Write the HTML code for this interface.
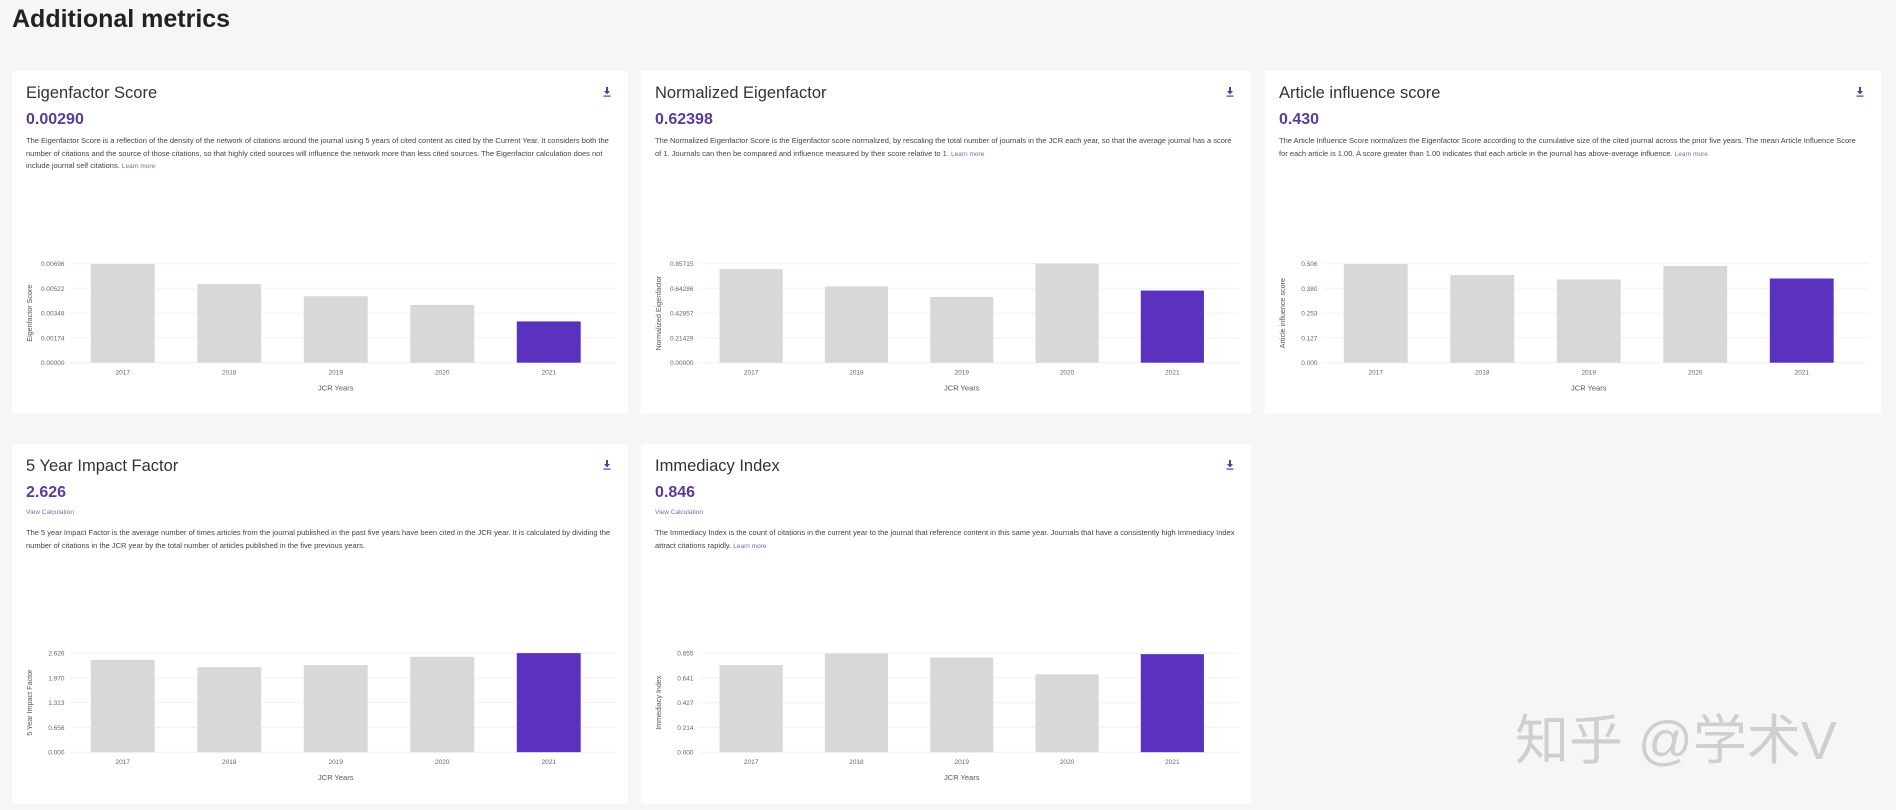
<!DOCTYPE html>
<html><head><meta charset="utf-8">
<style>
body{margin:0;width:1896px;height:810px;background:#f6f6f6;font-family:"Liberation Sans","Noto Sans CJK SC",sans-serif;position:relative;overflow:hidden}
h1{position:absolute;left:12px;top:5px;margin:0;font-size:25px;font-weight:700;color:#222}
.card{position:absolute;background:#fff}
.ct{position:absolute;left:14px;top:13px;font-size:16.5px;color:#333}
.cv{position:absolute;left:14px;top:40px;font-size:16px;font-weight:700;color:#5b3a9c}
.vc{position:absolute;left:14px;top:65px;font-size:6.5px;color:#7a6aa8}
.cd{position:absolute;left:14px;right:16px;font-size:7.5px;line-height:12.7px;color:#444}
.cd a{color:#7a6aa8;font-size:6.5px}
.dl{position:absolute;top:16px;width:8px;height:10px}
svg{position:absolute;left:0;top:0}
.wm{position:absolute;left:1515px;top:696px;font-size:54px;color:rgba(175,175,175,0.55);font-family:"Liberation Sans","Noto Sans CJK SC",sans-serif;white-space:nowrap}
</style></head><body>
<h1>Additional metrics</h1>
<div class="wm">知乎 @学术V</div>
<script>
const years=['2017','2018','2019','2020','2021'];
const eigenValues=[0.00694,0.00552,0.00467,0.00406,0.00290];
const eigenTicks=['0.00000','0.00174','0.00348','0.00522','0.00696'];
const normValues=[0.810,0.660,0.569,0.857,0.62398];
const normTicks=['0.00000','0.21429','0.42857','0.64286','0.85715'];
const aisValues=[0.504,0.448,0.425,0.494,0.430];
const aisTicks=['0.000','0.127','0.253','0.380','0.506'];
const fiveValues=[2.449,2.253,2.307,2.528,2.626];
const fiveTicks=['0.000','0.656','1.313','1.970','2.626'];
const immValues=[0.752,0.852,0.817,0.672,0.846];
const immTicks=['0.000','0.214','0.427','0.641','0.855'];

const cards=[
 {name:'eigenfactor',x:12,y:71,w:616,h:343,title:'Eigenfactor Score',value:'0.00290',calc:false,ytitle:'Eigenfactor Score',vals:eigenValues,ticks:eigenTicks,
  desc:'The Eigenfactor Score is a reflection of the density of the network of citations around the journal using 5 years of cited content as cited by the Current Year. It considers both the number of citations and the source of those citations, so that highly cited sources will influence the network more than less cited sources. The Eigenfactor calculation does not include journal self citations.'},
 {name:'normalized-eigenfactor',x:641,y:71,w:610,h:343,title:'Normalized Eigenfactor',value:'0.62398',calc:false,ytitle:'Normalized Eigenfactor',vals:normValues,ticks:normTicks,
  desc:'The Normalized Eigenfactor Score is the Eigenfactor score normalized, by rescaling the total number of journals in the JCR each year, so that the average journal has a score of 1. Journals can then be compared and influence measured by their score relative to 1.'},
 {name:'article-influence',x:1265,y:71,w:616,h:343,title:'Article influence score',value:'0.430',calc:false,ytitle:'Article influence score',vals:aisValues,ticks:aisTicks,
  desc:'The Article Influence Score normalizes the Eigenfactor Score according to the cumulative size of the cited journal across the prior five years. The mean Article Influence Score for each article is 1.00. A score greater than 1.00 indicates that each article in the journal has above-average influence.'},
 {name:'five-year-impact-factor',x:12,y:444,w:616,h:360,title:'5 Year Impact Factor',value:'2.626',calc:true,ytitle:'5 Year Impact Factor',vals:fiveValues,ticks:fiveTicks,learn:false,
  desc:'The 5 year Impact Factor is the average number of times articles from the journal published in the past five years have been cited in the JCR year. It is calculated by dividing the number of citations in the JCR year by the total number of articles published in the five previous years.'},
 {name:'immediacy-index',x:641,y:444,w:610,h:360,title:'Immediacy Index',value:'0.846',calc:true,ytitle:'Immediacy Index',vals:immValues,ticks:immTicks,
  desc:'The Immediacy Index is the count of citations in the current year to the journal that reference content in this same year. Journals that have a consistently high Immediacy Index attract citations rapidly.'}
];
const NS='http://www.w3.org/2000/svg';
function mk(tag,attrs,parent){const e=document.createElementNS(NS,tag);for(const k in attrs)e.setAttribute(k,attrs[k]);parent.appendChild(e);return e;}

cards.forEach(c=>{
 const d=document.createElement('div');d.className='card';
 
 
 d.style.cssText=`left:${c.x}px;top:${c.y}px;width:${c.w}px;height:${c.h}px`;
 document.body.appendChild(d);
 const t=document.createElement('div');t.className='ct';t.textContent=c.title;
 
 
 d.appendChild(t);
 const v=document.createElement('div');v.className='cv';v.textContent=c.value;
 
 
 d.appendChild(v);
 const dl=document.createElementNS(NS,'svg');dl.setAttribute('class','dl');
 dl.setAttribute('viewBox','0 0 8 10');
 dl.style.left=(c.w-25)+'px';dl.style.top='16px';
 
 
 dl.innerHTML='<path d="M3 0h2v4h2L4 7.5 1 4h2z" fill="#5b3a9c"/><rect x="0.5" y="8.5" width="7" height="1.2" fill="#5b3a9c"/>';
 d.appendChild(dl);
 let descTop=64;
 if(c.calc){
  const vc=document.createElement('div');vc.className='vc';vc.textContent='View Calculation';
  
  
  d.appendChild(vc);descTop=83;
 }
 const ds=document.createElement('div');ds.className='cd';ds.style.top=descTop+'px';
 
 
 ds.textContent=c.desc+' ';
 if(c.learn!==false){const a=document.createElement('a');a.textContent='Learn more';
  
  
  ds.appendChild(a);}
 d.appendChild(ds);
 const off=c.calc?16.5:0;
 const top=192.6+off,bot=291.7+off,left=57.5,right=c.w-26;
 const max=parseFloat(c.ticks[c.ticks.length-1]);
 const ys=val=>bot-(val/max)*(bot-top);
 const band=(right-left)/years.length;
 const xs=i=>left+band*i;
 const svg=mk('svg',{width:c.w,height:c.h},d);
 
 
 c.ticks.forEach(tk=>{
  const y=ys(parseFloat(tk));
  const g=mk('line',{x1:left,x2:right+14,y1:y,y2:y,stroke:'#f0f0f0','stroke-width':1},svg);
  
  
  const tl=mk('text',{x:left-5,y:y+2.5,'text-anchor':'end','font-size':6.5,fill:'#666'},svg);
  tl.textContent=tk;
  
  
 });
 c.vals.forEach((val,i)=>{
  const bw=band*0.6;
  const r=mk('rect',{x:xs(i)+(band-bw)/2,y:ys(val),width:bw,height:bot-ys(val),fill:i===years.length-1?'#5b32be':'#d8d8d8'},svg);
  
  
  const xl=mk('text',{x:xs(i)+band/2,y:bot+12,'text-anchor':'middle','font-size':6.5,fill:'#666'},svg);
  xl.textContent=years[i];
  
  
 });
 const xt=mk('text',{x:(left+right)/2,y:bot+28,'text-anchor':'middle','font-size':7.5,fill:'#555'},svg);
 xt.textContent='JCR Years';
 
 
 const cy=(top+bot)/2;
 const yt=mk('text',{x:20,y:cy,'text-anchor':'middle','font-size':7.2,fill:'#555',transform:`rotate(-90 20 ${cy})`},svg);
 yt.textContent=c.ytitle;
 
 
});
</script>
</body></html>
